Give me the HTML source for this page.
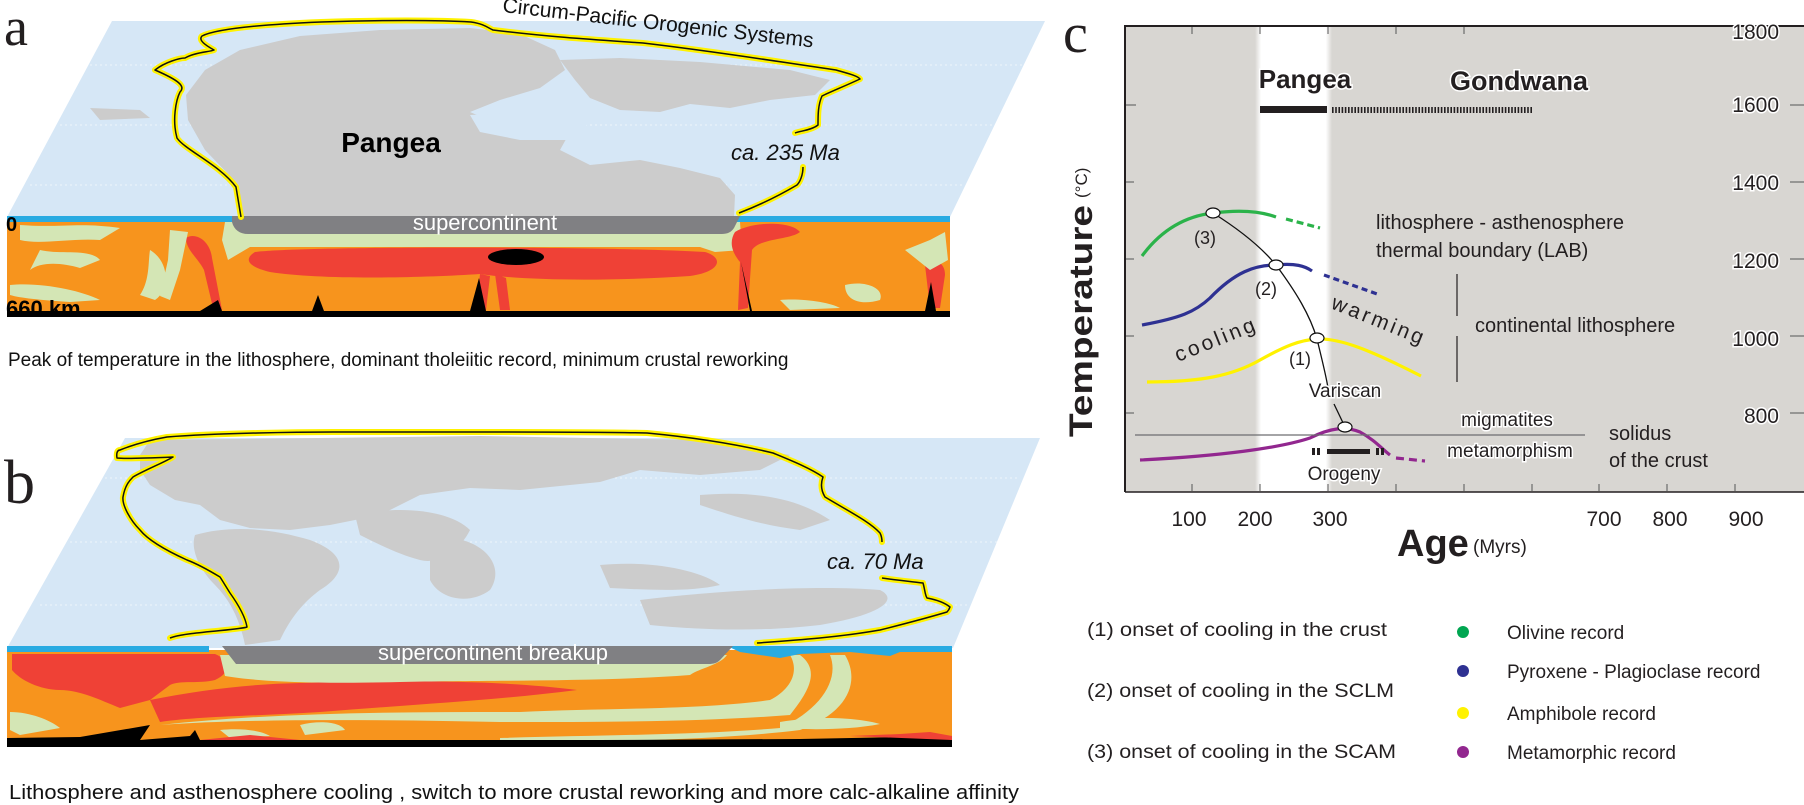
<!DOCTYPE html>
<html><head><meta charset="utf-8"><style>
html,body{margin:0;padding:0;background:#fff;}
svg{display:block;}
text{font-family:"Liberation Sans",sans-serif;}
</style></head><body>
<svg width="1804" height="805" viewBox="0 0 1804 805" xmlns="http://www.w3.org/2000/svg">
<defs>
<linearGradient id="wb" x1="0" x2="1" y1="0" y2="0">
<stop offset="0" stop-color="#d8d6d2"/><stop offset="0.08" stop-color="#fff"/><stop offset="0.92" stop-color="#fff"/><stop offset="1" stop-color="#d8d6d2"/>
</linearGradient>
</defs>

<!-- ================= PANEL A ================= -->
<text x="4" y="45" font-size="54" fill="#231f20" style="font-family:'Liberation Serif',serif">a</text>
<polygon points="112,21 1045,21 950,217 7,217" fill="#d6e7f6"/>
<g stroke="#fff" stroke-width="1" stroke-dasharray="2,3" opacity="0.6">
<line x1="60" y1="125" x2="1000" y2="125"/><line x1="30" y1="185" x2="965" y2="185"/><line x1="90" y1="65" x2="1025" y2="65"/>
</g>
<path d="M240,217 L232,178 L205,150 L188,120 L186,95 L205,70 L240,50 L300,36 L380,30 L470,28 L520,34 L555,50 L565,70 L540,88 L500,100 L470,112 L500,125 L540,120 L570,132 L560,150 L590,165 L640,160 L680,168 L720,178 L735,195 L734,217 Z" fill="#cccccc"/>
<path d="M560,60 L620,58 L700,62 L790,70 L830,80 L815,95 L770,100 L730,108 L690,104 L660,112 L620,110 L590,98 L575,80 Z" fill="#cccccc"/>
<path d="M470,115 L540,112 L590,122 L570,140 L520,140 L480,132 Z" fill="#d6e7f6"/>
<path d="M90,108 L140,110 L150,118 L100,120 Z" fill="#cccccc"/>
<path d="M300,118 L330,115 L320,128 Z" fill="#cccccc"/>
<rect x="7" y="222" width="943" height="95" fill="#f7941d"/>
<path d="M225,222 L740,222 L742,250 L715,252 L700,247 L250,247 L228,260 L222,240 Z" fill="#d4e6b5"/>
<path d="M255,252 C300,246 600,246 705,252 C725,258 720,272 690,276 C600,282 520,280 480,274 C420,278 320,280 270,272 C245,266 245,258 255,252 Z" fill="#ef4136"/>
<ellipse cx="516" cy="257" rx="28" ry="8" fill="#000"/>
<path d="M480,274 L476,310 L486,310 L490,276 Z M495,274 L500,310 L510,310 L506,278 Z" fill="#ef4136"/>
<path d="M186,238 C195,232 210,240 212,258 L222,310 L214,312 L204,270 C198,258 186,250 186,238 Z" fill="#ef4136"/>
<path d="M735,232 C750,222 790,220 800,232 C790,240 760,238 752,250 L748,308 L738,310 L740,262 C730,250 730,240 735,232 Z" fill="#ef4136"/>
<path d="M925,265 C935,258 945,262 945,275 L940,308 L930,308 Z" fill="#ef4136"/>
<path d="M20,225 C60,228 80,222 120,228 L100,240 C70,238 40,245 20,240 Z M40,250 C60,255 90,248 100,260 L80,268 C60,262 40,262 30,270 Z M10,285 C40,282 80,290 100,300 L70,302 C40,300 20,298 10,295 Z M170,230 L188,232 L180,270 L170,300 L160,296 L168,260 Z M150,250 C170,262 170,290 155,300 L140,295 C150,280 148,262 150,250 Z" fill="#d4e6b5"/>
<path d="M845,285 C865,280 885,288 880,300 C860,306 845,300 845,285 Z M905,250 L930,240 L945,232 L948,260 L930,270 Z M780,300 C800,298 830,302 840,308 L790,310 Z" fill="#d4e6b5"/>
<path d="M7,311 L200,311 L218,300 L222,311 L312,311 L318,295 L324,311 L470,311 L479,278 L486,311 L750,311 L741,262 L752,311 L925,311 L931,282 L936,311 L950,311 L950,317 L7,317 Z" fill="#000"/>
<rect x="7" y="216" width="231" height="6" fill="#29abe2"/>
<rect x="733" y="216" width="217" height="6" fill="#29abe2"/>
<path d="M232,216 L740,216 L734,228 C730,234 725,234 720,234 L248,234 C240,234 234,230 232,222 Z" fill="#808083"/>
<text x="485" y="230" font-size="22" fill="#fff" text-anchor="middle">supercontinent</text>
<text x="6" y="231" font-size="20" font-weight="bold" fill="#000">0</text>
<text x="6" y="316" font-size="22" font-weight="bold" fill="#000">660 km</text>
<text x="391" y="152" font-size="28" font-weight="bold" fill="#000" text-anchor="middle">Pangea</text>
<g fill="none" stroke-linejoin="round" stroke-linecap="round">
<path id="oa" d="M241,217 L236,187 C220,165 185,150 177,138 C172,120 176,100 180,92 C186,86 178,80 155,70 C165,62 180,58 185,58 C195,52 210,52 214,50 C205,45 198,40 202,36 C214,30 250,25 321,22 C380,20 440,20 471,22 C485,24 488,28 493,30 C560,38 600,40 643,43 C720,52 780,62 836,70 C850,74 858,76 860,79 C845,86 830,92 822,96 C818,105 818,115 818,125 C812,130 800,131 795,133"/>
<path id="ob" d="M803,167 C803,175 800,182 797,185 C780,195 760,205 739,213"/>
</g>
<g fill="none" stroke="#fff200" stroke-width="6" stroke-linejoin="round" stroke-linecap="round"><use href="#oa"/><use href="#ob"/></g>
<g fill="none" stroke="#111" stroke-width="1.5" stroke-linejoin="round"><use href="#oa"/><use href="#ob"/></g>
<text x="502" y="12" font-size="21" fill="#111" transform="rotate(6.5 502 12)">Circum-Pacific Orogenic Systems</text>
<text x="731" y="160" font-size="22" font-style="italic" fill="#111">ca. 235 Ma</text>
<text x="8" y="366" font-size="19" fill="#111">Peak of temperature in the lithosphere, dominant tholeiitic record, minimum crustal reworking</text>

<!-- ================= PANEL B ================= -->
<text x="4" y="503" font-size="62" fill="#231f20" style="font-family:'Liberation Serif',serif">b</text>
<polygon points="125,438 1040,438 953,648 7,648" fill="#d6e7f6"/>
<g stroke="#fff" stroke-width="1" stroke-dasharray="2,3" opacity="0.6">
<line x1="70" y1="542" x2="1000" y2="542"/><line x1="40" y1="605" x2="970" y2="605"/><line x1="100" y1="478" x2="1020" y2="478"/>
</g>
<path d="M150,440 L480,436 L700,440 L790,455 L760,470 L700,475 L640,470 L600,482 L520,490 L470,488 L420,495 L380,515 L330,525 L290,530 L250,528 L220,520 L200,505 L175,500 L150,485 L140,470 L140,455 Z" fill="#cccccc"/>
<path d="M195,535 C230,525 270,528 310,540 C350,555 345,575 320,590 C300,605 290,620 280,640 L245,645 C240,620 230,600 215,585 C200,570 190,550 195,535 Z" fill="#cccccc"/>
<path d="M355,515 C400,505 450,510 470,530 C460,550 440,565 420,560 C400,555 380,545 360,535 Z" fill="#cccccc"/>
<path d="M430,540 C470,530 510,560 490,590 C470,605 440,600 430,580 Z" fill="#cccccc"/>
<path d="M600,565 C650,560 700,570 720,585 C690,592 650,590 610,588 Z" fill="#cccccc"/>
<path d="M640,600 C720,590 820,585 880,590 C900,600 880,615 820,625 C760,632 700,630 650,625 Z" fill="#cccccc"/>
<path d="M700,495 C760,490 800,500 830,520 L800,530 C760,525 730,515 700,505 Z" fill="#cccccc"/>
<rect x="7" y="650" width="945" height="97" fill="#f7941d"/>
<path d="M12,654 L215,654 C230,660 232,672 215,680 C200,684 180,680 170,685 L150,700 L120,708 C100,700 80,690 60,690 C40,690 20,680 12,670 Z" fill="#ef4136"/>
<path d="M150,700 C200,690 250,684 300,683 C400,680 500,680 577,690 C500,700 420,704 320,712 C260,716 200,716 160,722 Z" fill="#ef4136"/>
<path d="M220,655 L727,655 C720,665 700,668 690,675 C600,682 480,680 400,682 C320,684 260,682 225,676 Z" fill="#d4e6b5"/>
<path d="M160,725 C250,718 400,720 500,722 C600,722 700,722 790,715 C810,690 820,670 800,655 L790,655 C800,672 790,690 770,700 C700,710 600,708 520,712 C400,712 280,712 160,725 Z" fill="#d4e6b5"/>
<path d="M830,655 C840,680 820,710 780,728 C700,735 600,735 500,738 L500,742 C600,742 720,740 800,730 C850,712 860,680 845,655 Z" fill="#d4e6b5"/>
<path d="M780,722 C820,715 860,718 880,724 C850,730 810,730 780,728 Z M10,712 C30,712 50,720 60,728 L20,735 L10,730 Z M220,730 C240,728 260,730 270,736 L230,738 Z M300,725 C320,720 340,722 345,730 L305,735 Z" fill="#d4e6b5"/>
<path d="M7,738 L80,737 L150,725 L140,740 L190,736 L195,730 L200,740 L600,740 L800,739 L900,737 L930,736 L952,740 L952,747 L7,747 Z" fill="#000"/>
<path d="M200,740 L250,735 L300,740 Z M850,736 L900,734 L930,732 L952,736 L952,740 Z" fill="#ef4136"/>
<rect x="7" y="646" width="202" height="6" fill="#29abe2"/>
<path d="M727,646 L952,646 L952,652 L900,652 L890,656 L850,652 L800,654 L780,658 L740,652 Z" fill="#29abe2"/>
<path d="M222,646 L733,646 L720,660 C716,664 712,664 706,664 L236,664 Z" fill="#808083"/>
<text x="493" y="660" font-size="22" fill="#fff" text-anchor="middle">supercontinent breakup</text>
<g fill="none" stroke-linejoin="round" stroke-linecap="round">
<path id="pb1" d="M170,638 C185,632 240,630 247,627 C245,615 235,600 230,593 C225,585 222,580 220,577 C205,568 195,563 187,560 C165,550 148,540 140,530 C130,520 122,505 123,497 C125,485 130,480 133,477 C145,470 165,462 173,457 C150,458 125,459 117,458 C116,452 118,450 120,450 C135,444 150,440 167,437 C220,433 300,432 333,432 C400,432 450,432 480,432 C560,432 600,432 647,433 C700,438 740,445 773,453 C790,460 810,468 823,477 C820,485 822,492 825,497 C850,512 870,522 880,533 C882,537 882,540 882,542"/>
<path id="pb2" d="M882,578 C895,580 915,582 923,583 C925,590 925,595 927,598 C938,600 945,603 950,607 C949,610 948,611 947,612 C920,620 900,625 880,630 C840,637 800,640 757,643"/>
</g>
<g fill="none" stroke="#fff200" stroke-width="6" stroke-linejoin="round" stroke-linecap="round"><use href="#pb1"/><use href="#pb2"/></g>
<g fill="none" stroke="#111" stroke-width="1.5" stroke-linejoin="round"><use href="#pb1"/><use href="#pb2"/></g>
<text x="827" y="569" font-size="22" font-style="italic" fill="#111">ca. 70 Ma</text>
<text x="9" y="799" font-size="20" fill="#111" textLength="1010" lengthAdjust="spacingAndGlyphs">Lithosphere and asthenosphere cooling , switch to more crustal reworking and more calc-alkaline affinity</text>

<!-- ================= PANEL C ================= -->
<text x="1063" y="52" font-size="56" fill="#231f20" style="font-family:'Liberation Serif',serif">c</text>
<rect x="1125" y="26" width="679" height="466" fill="#d8d6d2"/>
<rect x="1255" y="27" width="77" height="464" fill="url(#wb)"/>
<path d="M1125,492 L1125,26 L1804,26" fill="none" stroke="#231f20" stroke-width="2"/>
<line x1="1125" y1="492" x2="1804" y2="492" stroke="#231f20" stroke-width="1.5"/>
<g stroke="#555" stroke-width="1">
<line x1="1192" y1="27" x2="1192" y2="34"/><line x1="1260" y1="27" x2="1260" y2="34"/><line x1="1328" y1="27" x2="1328" y2="34"/><line x1="1396" y1="27" x2="1396" y2="34"/><line x1="1464" y1="27" x2="1464" y2="34"/>
<line x1="1192" y1="491" x2="1192" y2="484"/><line x1="1260" y1="491" x2="1260" y2="484"/><line x1="1328" y1="491" x2="1328" y2="484"/><line x1="1396" y1="491" x2="1396" y2="484"/><line x1="1464" y1="491" x2="1464" y2="484"/><line x1="1532" y1="491" x2="1532" y2="484"/><line x1="1599" y1="491" x2="1599" y2="484"/><line x1="1667" y1="491" x2="1667" y2="484"/><line x1="1735" y1="491" x2="1735" y2="484"/>
<line x1="1126" y1="105" x2="1136" y2="105"/><line x1="1126" y1="182" x2="1134" y2="182"/><line x1="1126" y1="259" x2="1134" y2="259"/><line x1="1126" y1="336" x2="1134" y2="336"/><line x1="1126" y1="413" x2="1134" y2="413"/>
<line x1="1790" y1="105" x2="1804" y2="105"/><line x1="1790" y1="182" x2="1804" y2="182"/><line x1="1790" y1="259" x2="1804" y2="259"/><line x1="1790" y1="336" x2="1804" y2="336"/><line x1="1790" y1="413" x2="1804" y2="413"/>
</g>
<g font-size="21" fill="#231f20" text-anchor="end" stroke="#fff" stroke-width="3" paint-order="stroke">
<text x="1779" y="39">1800</text><text x="1779" y="112">1600</text><text x="1779" y="190">1400</text><text x="1779" y="268">1200</text><text x="1779" y="346">1000</text><text x="1779" y="423">800</text>
</g>
<g font-size="21" fill="#231f20" text-anchor="middle">
<text x="1189" y="526">100</text><text x="1255" y="526">200</text><text x="1330" y="526">300</text><text x="1604" y="526">700</text><text x="1670" y="526">800</text><text x="1746" y="526">900</text>
</g>
<text x="1397" y="556" font-size="38" font-weight="bold" fill="#231f20">Age</text>
<text x="1473" y="553" font-size="19" fill="#231f20">(Myrs)</text>
<text transform="translate(1092,437) rotate(-90)" font-size="32" font-weight="bold" fill="#231f20" textLength="232" lengthAdjust="spacingAndGlyphs">Temperature</text>
<text transform="translate(1087,198) rotate(-90)" font-size="17" fill="#231f20">(°C)</text>

<g stroke="#fff" stroke-width="3" paint-order="stroke" fill="#231f20">
<text x="1305" y="88" font-size="26" font-weight="bold" text-anchor="middle">Pangea</text>
<text x="1450" y="90" font-size="27" font-weight="bold">Gondwana</text>
</g>
<rect x="1260" y="106" width="67" height="7" fill="#231f20"/>
<line x1="1332" y1="110" x2="1532" y2="110" stroke="#231f20" stroke-width="6" stroke-dasharray="1.6,1.6"/>

<g fill="none" stroke-width="3.2" stroke-linecap="butt">
<path d="M1142,256 Q1170,218 1213,213 Q1252,208 1276,217" stroke="#2bb34a"/>
<path d="M1286,219 L1320,228" stroke="#2bb34a" stroke-dasharray="7,4"/>
<path d="M1142,325 C1180,318 1195,312 1210,298 C1235,272 1255,265 1276,265 C1295,263 1305,266 1312,271" stroke="#2e3192"/>
<path d="M1324,275 L1380,295" stroke="#2e3192" stroke-dasharray="6,4"/>
<path d="M1147,382 C1200,382 1232,376 1260,360 C1285,346 1300,340 1317,339 C1340,338 1370,350 1421,376" stroke="#fff200"/>
<path d="M1140,460 C1220,456 1280,448 1310,438 C1330,428 1345,426 1360,432 C1375,440 1383,450 1390,455" stroke="#92278f"/>
<path d="M1396,458 L1425,461" stroke="#92278f" stroke-dasharray="8,5"/>
</g>
<path d="M1213,213 C1240,230 1262,248 1276,265 C1296,292 1310,315 1317,339 C1322,360 1326,375 1328,388 M1334,404 L1345,427" fill="none" stroke="#111" stroke-width="1.3"/>
<line x1="1135" y1="435" x2="1585" y2="435" stroke="#6d6e71" stroke-width="1.2"/>
<g fill="#fff" stroke="#111" stroke-width="1.2">
<ellipse cx="1213" cy="213" rx="7" ry="5"/><ellipse cx="1276" cy="265" rx="7" ry="5"/><ellipse cx="1317" cy="338" rx="7" ry="5"/><ellipse cx="1345" cy="427" rx="7" ry="5"/>
</g>
<g fill="#231f20">
<rect x="1312" y="448" width="3" height="7"/><rect x="1317" y="448" width="3" height="7"/>
<rect x="1327" y="449" width="43" height="5"/>
<rect x="1376" y="448" width="3" height="7"/><rect x="1381" y="448" width="3" height="7"/>
</g>
<g font-size="18" fill="#231f20">
<text x="1205" y="244" text-anchor="middle">(3)</text>
<text x="1266" y="295" text-anchor="middle">(2)</text>
<text x="1300" y="365" text-anchor="middle">(1)</text>
</g>
<g fill="#231f20" stroke="#fff" stroke-width="3" paint-order="stroke">
<text x="1345" y="397" font-size="19" text-anchor="middle">Variscan</text>
<text x="1344" y="480" font-size="19" text-anchor="middle">Orogeny</text>
<text x="1507" y="426" font-size="19" text-anchor="middle">migmatites</text>
<text x="1510" y="457" font-size="19" text-anchor="middle">metamorphism</text>
</g>
<text transform="translate(1178,362) rotate(-22)" font-size="21" fill="#231f20" letter-spacing="3">cooling</text>
<text transform="translate(1330,308) rotate(22)" font-size="21" fill="#231f20" letter-spacing="3">warming</text>
<g font-size="20" fill="#231f20">
<text x="1376" y="229">lithosphere - asthenosphere</text>
<text x="1376" y="257">thermal boundary (LAB)</text>
<text x="1475" y="332">continental lithosphere</text>
<text x="1609" y="440">solidus</text>
<text x="1609" y="467">of the crust</text>
</g>
<line x1="1457" y1="274" x2="1457" y2="316" stroke="#231f20" stroke-width="1.2"/>
<line x1="1457" y1="336" x2="1457" y2="382" stroke="#231f20" stroke-width="1.2"/>

<g font-size="19" fill="#231f20">
<text x="1087" y="636" textLength="300" lengthAdjust="spacingAndGlyphs">(1) onset of cooling in the crust</text>
<text x="1087" y="697" textLength="307" lengthAdjust="spacingAndGlyphs">(2) onset of cooling in the SCLM</text>
<text x="1087" y="758" textLength="309" lengthAdjust="spacingAndGlyphs">(3) onset of cooling in the SCAM</text>
<text x="1507" y="639">Olivine record</text>
<text x="1507" y="678">Pyroxene - Plagioclase record</text>
<text x="1507" y="720">Amphibole record</text>
<text x="1507" y="759">Metamorphic record</text>
</g>
<circle cx="1463" cy="632" r="6" fill="#00a651"/>
<circle cx="1463" cy="671" r="6" fill="#2e3192"/>
<circle cx="1463" cy="713" r="6" fill="#fff200"/>
<circle cx="1463" cy="752" r="6" fill="#92278f"/>
</svg>
</body></html>
